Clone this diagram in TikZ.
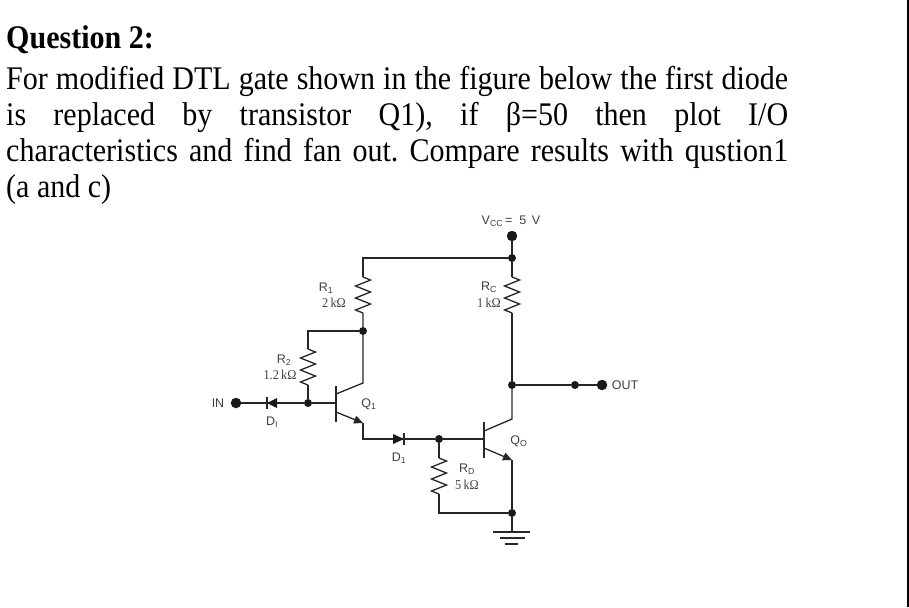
\documentclass[tikz,border=0pt]{standalone}
\usepackage{fontspec}
\setmainfont[FakeStretch=0.91]{Liberation Serif}
\setsansfont{Liberation Sans}
\usetikzlibrary{arrows.meta,decorations.pathmorphing}
\tikzset{
  wire/.style={line width=1.3pt,black!85},
  res/.style={wire,decorate,decoration={zigzag,segment length=12pt,amplitude=7.5pt}},
  dot/.style={circle,fill=black!90,inner sep=0pt,minimum size=8pt},
  bigdot/.style={circle,fill=black!90,inner sep=0pt,minimum size=10.5pt},
  lab/.style={font=\sffamily\fontsize{12.5pt}{14pt}\selectfont,text=black!75,inner sep=0pt},
  val/.style={font=\fontsize{13.5pt}{14pt}\selectfont,text=black!75,inner sep=0pt}
}
\begin{document}
\frenchspacing
\begin{tikzpicture}[x=1pt,y=-1pt]
        \useasboundingbox (0,0) rectangle (909,607);
        % question text
        \node[anchor=base west,inner sep=0pt,font=\bfseries\fontsize{33pt}{36pt}\selectfont](title) at (6,49) {Question 2:};
        \node[anchor=north west,inner sep=0pt,text width=782pt,align=justify,font=\fontsize{33pt}{36pt}\selectfont](body) at (6,66)
          {For modified DTL gate shown in the figure below the first diode\linebreak
           is replaced by transistor Q1), if β=50 then plot I/O\linebreak
           characteristics and find fan out. Compare results with qustion1\linebreak
           (a and c)\hfill\null};
        \draw[line width=1.5pt](908,0)--(908,607);
        % input side
        \node[bigdot](in) at (236,403) {};
        \node[dot](nb) at (308,403) {};
        \node[dot](nc) at (363,331) {};
        \coordinate(top) at (363,258);
        \coordinate(r1a) at (363,277);
        \coordinate(r1b) at (363,313);
        \coordinate(r2t) at (308,331);
        \coordinate(r2a) at (308,349);
        \coordinate(r2b) at (308,385);
        \coordinate(d2c) at (267,403);
        \coordinate(d2a) at (277,403);
        \coordinate(q1b) at (336,403);
        \coordinate(q1u) at (336,386);
        \coordinate(q1d) at (336,422);
        \coordinate(q1cs) at (336,394);
        \coordinate(q1c) at (363,383);
        \coordinate(q1es) at (336,412);
        \coordinate(q1e) at (363,423);
        \coordinate(q1f) at (363,439);
        \coordinate(d1a) at (393,439);
        \coordinate(d1c) at (404,439);
        % output side
        \node[bigdot](vcc) at (512,236) {};
        \node[dot](nv) at (512,258) {};
        \node[dot](no) at (512,385) {};
        \node[dot](nt) at (575,385) {};
        \node[bigdot](out) at (602,385) {};
        \node[dot](nq) at (439,439) {};
        \node[dot](ng) at (512,513) {};
        \coordinate(rca) at (512,277);
        \coordinate(rcb) at (512,313);
        \coordinate(q0b) at (484,439);
        \coordinate(q0u) at (484,422);
        \coordinate(q0d) at (484,458);
        \coordinate(q0cs) at (484,431);
        \coordinate(q0c) at (512,419);
        \coordinate(q0es) at (484,448);
        \coordinate(q0e) at (512,460);
        \coordinate(rda) at (439,458);
        \coordinate(rdb) at (439,494);
        \coordinate(rdf) at (439,513);
        \coordinate(g0) at (512,532);
        % wires
        \draw[wire](vcc)--(nv)--(rca);
        \draw[wire](nv)--(top)--(r1a);
        \draw[res](r1a)--(r1b);
        \draw[wire](r1b)--(nc)--(q1c)--(q1cs);
        \draw[wire](nc)--(r2t)--(r2a);
        \draw[res](r2a)--(r2b);
        \draw[wire](r2b)--(nb);
        \draw[wire](in)--(nb)--(q1b);
        \draw[wire](q1u)--(q1d);
        \draw[wire,-{Triangle[length=9pt,width=8pt]}](q1es)--(q1e);
        \draw[wire](q1e)--(q1f)--(nq)--(q0b);
        \draw[wire](q0u)--(q0d);
        \draw[wire](q0cs)--(q0c)--(no);
        \draw[res](rca)--(rcb);
        \draw[wire](rcb)--(no)--(nt)--(out);
        \draw[wire,-{Triangle[length=9pt,width=8pt]}](q0es)--(q0e);
        \draw[wire](q0e)--(ng)--(g0);
        \draw[wire](nq)--(rda);
        \draw[res](rda)--(rdb);
        \draw[wire](rdb)--(rdf)--(ng);
        % diodes
        \fill[black!90](d2c)--(d2a|-398,398)--(d2a|-408,408)--cycle;
        \draw[wire](267,397)--(267,409);
        \fill[black!90](d1a|-434,434)--(d1a|-444,444)--(d1c)--cycle;
        \draw[wire](404,433)--(404,445);
        % ground
        \draw[wire](493,532)--(530,532);
        \draw[wire](500,538)--(525,538);
        \draw[wire](505,544)--(518,544);
        % labels
        \node[lab](lin) at (218,403) {IN};
        \node[lab](ld2) at (272,422) {D\textsubscript{I}};
        \node[lab](lr1) at (326,288) {R\textsubscript{1}};
        \node[val](vr1) at (334,303) {2\,kΩ};
        \node[lab](lr2) at (284,360) {R\textsubscript{2}};
        \node[val](vr2) at (280,375) {1.2\,kΩ};
        \node[lab](lq1) at (369,404) {Q\textsubscript{1}};
        \node[lab](ld1) at (399,458) {D\textsubscript{1}};
        \node[lab](lvcc) at (511,221) {V\textsubscript{CC}\,=\ \ 5\ \,V};
        \node[lab](lrc) at (489,287) {R\textsubscript{C}};
        \node[val](vrc) at (489,303) {1\,kΩ};
        \node[lab](lout) at (625,385) {OUT};
        \node[lab](lq0) at (519,441) {Q\textsubscript{O}};
        \node[lab](lrd) at (467,469) {R\textsubscript{D}};
        \node[val](vrd) at (467,485) {5\,kΩ};
\end{tikzpicture}
\end{document}
